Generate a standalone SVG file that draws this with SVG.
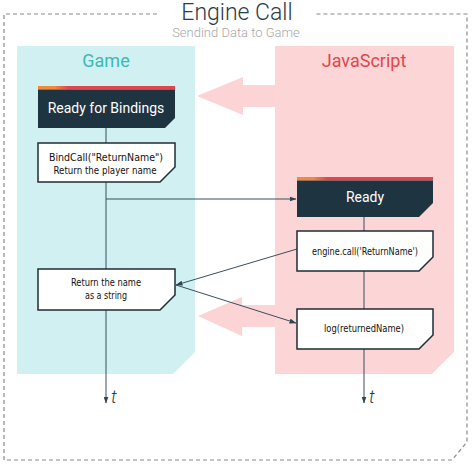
<svg xmlns="http://www.w3.org/2000/svg" width="474" height="467" viewBox="0 0 474 467">
<defs>
<linearGradient id="stripe" x1="0" y1="0" x2="1" y2="0">
<stop offset="0" stop-color="#f08a3a"/>
<stop offset="0.12" stop-color="#f08a3a"/>
<stop offset="0.22" stop-color="#e0474c"/>
<stop offset="1" stop-color="#e0474c"/>
</linearGradient>
<marker id="ah" markerWidth="7" markerHeight="5" refX="6.5" refY="2.5" orient="auto" markerUnits="userSpaceOnUse">
<path d="M0,0 L7,2.5 L0,5 Z" fill="#2f4450"/>
</marker>
<style>
.frame{fill:none;stroke:#8a8a8a;stroke-width:1.2;stroke-dasharray:4 3}
.title{font-family:Roboto,"Liberation Sans",sans-serif;font-weight:300;font-size:23px;fill:#2d3b45;text-anchor:middle}
.sub{font-family:Roboto,"Liberation Sans",sans-serif;font-weight:300;font-size:13px;fill:#a8a8a8;text-anchor:middle}
.lane{font-family:Roboto,"Liberation Sans",sans-serif;font-weight:400;font-size:18px;text-anchor:middle}
.dark{fill:#1f3441}
.white{fill:#ffffff;stroke:#1e2d36;stroke-width:1.5}
.dt{font-family:Roboto,"Liberation Sans",sans-serif;font-size:14px;fill:#ffffff;text-anchor:middle}
.wt{font-family:"DejaVu Sans Condensed",Roboto,"Liberation Sans",sans-serif;font-size:11px;fill:#111;text-anchor:middle}
.conn{fill:none;stroke:#3a4f5b;stroke-width:1}
.t{font-family:Roboto,"Liberation Sans",sans-serif;font-style:italic;font-weight:300;font-size:18px;fill:#2d3b45}
.big{fill:#fcd4d5}
</style>
</defs>
<rect width="474" height="467" fill="#ffffff"/>
<path class="frame" d="M157,14 H4 V460 H452 L467,442 V14 H316"/>
<text class="title" x="237" y="20">Engine Call</text>
<text class="sub" x="236" y="37">Sendind Data to Game</text>

<g id="lane-game">
<path d="M17,46 H195 V352 L173,374 H17 Z" fill="#d0f0f2"/>
<text class="lane" x="106" y="67" fill="#3bbab2">Game</text>
</g>
<g id="lane-js">
<path d="M275,46 H454 V352 L432,374 H275 Z" fill="#fcd5d6"/>
<text class="lane" x="364" y="67" fill="#e0474c">JavaScript</text>
</g>

<g id="big-arrows">
<path class="big" d="M197,96 L243,77 V85 H275 V107 H243 V115 Z"/>
<path class="big" d="M198,316 L242,297 V305 H275 V327 H242 V336 Z"/>
</g>

<g id="connectors">
<line class="conn" x1="106" y1="128" x2="106" y2="403" marker-end="url(#ah)"/>
<line class="conn" x1="364" y1="217" x2="364" y2="403" marker-end="url(#ah)"/>
<polyline class="conn" points="106,199 296,199" marker-end="url(#ah)"/>
<line class="conn" x1="297" y1="249" x2="176" y2="285" marker-end="url(#ah)"/>
<line class="conn" x1="176" y1="285" x2="296" y2="323" marker-end="url(#ah)"/>
</g>

<g id="node-ready-bindings">
<rect x="38" y="86" width="137" height="3.5" fill="url(#stripe)"/>
<path class="dark" d="M38,89.5 H175 V118 L165,128 H38 Z"/>
<text class="dt" x="106" y="113">Ready for Bindings</text>
</g>
<g id="node-bindcall">
<path class="white" d="M38,143 H175 V167 L160,182 H38 Z"/>
<text class="wt" x="106" y="161" textLength="114" lengthAdjust="spacingAndGlyphs">BindCall("ReturnName")</text>
<text class="wt" x="105" y="174" textLength="103" lengthAdjust="spacingAndGlyphs">Return the player name</text>
</g>
<g id="node-return">
<path class="white" d="M38,269 H175 V295 L160,310 H38 Z"/>
<text class="wt" x="106" y="286" textLength="70" lengthAdjust="spacingAndGlyphs">Return the name</text>
<text class="wt" x="106" y="299" textLength="42" lengthAdjust="spacingAndGlyphs">as a string</text>
</g>
<g id="node-ready">
<rect x="297" y="177" width="136" height="3.5" fill="url(#stripe)"/>
<path class="dark" d="M297,180.5 H433 V203 L419,217 H297 Z"/>
<text class="dt" x="365" y="202">Ready</text>
</g>
<g id="node-engine-call">
<path class="white" d="M297,231 H433 V257 L419,271 H297 Z"/>
<text class="wt" x="365" y="255" textLength="106" lengthAdjust="spacingAndGlyphs">engine.call('ReturnName')</text>
</g>
<g id="node-log">
<path class="white" d="M297,309 H433 V335 L419,349 H297 Z"/>
<text class="wt" x="364" y="332" textLength="80" lengthAdjust="spacingAndGlyphs">log(returnedName)</text>
</g>

<text class="t" x="111" y="403">t</text>
<text class="t" x="369" y="403">t</text>
</svg>
